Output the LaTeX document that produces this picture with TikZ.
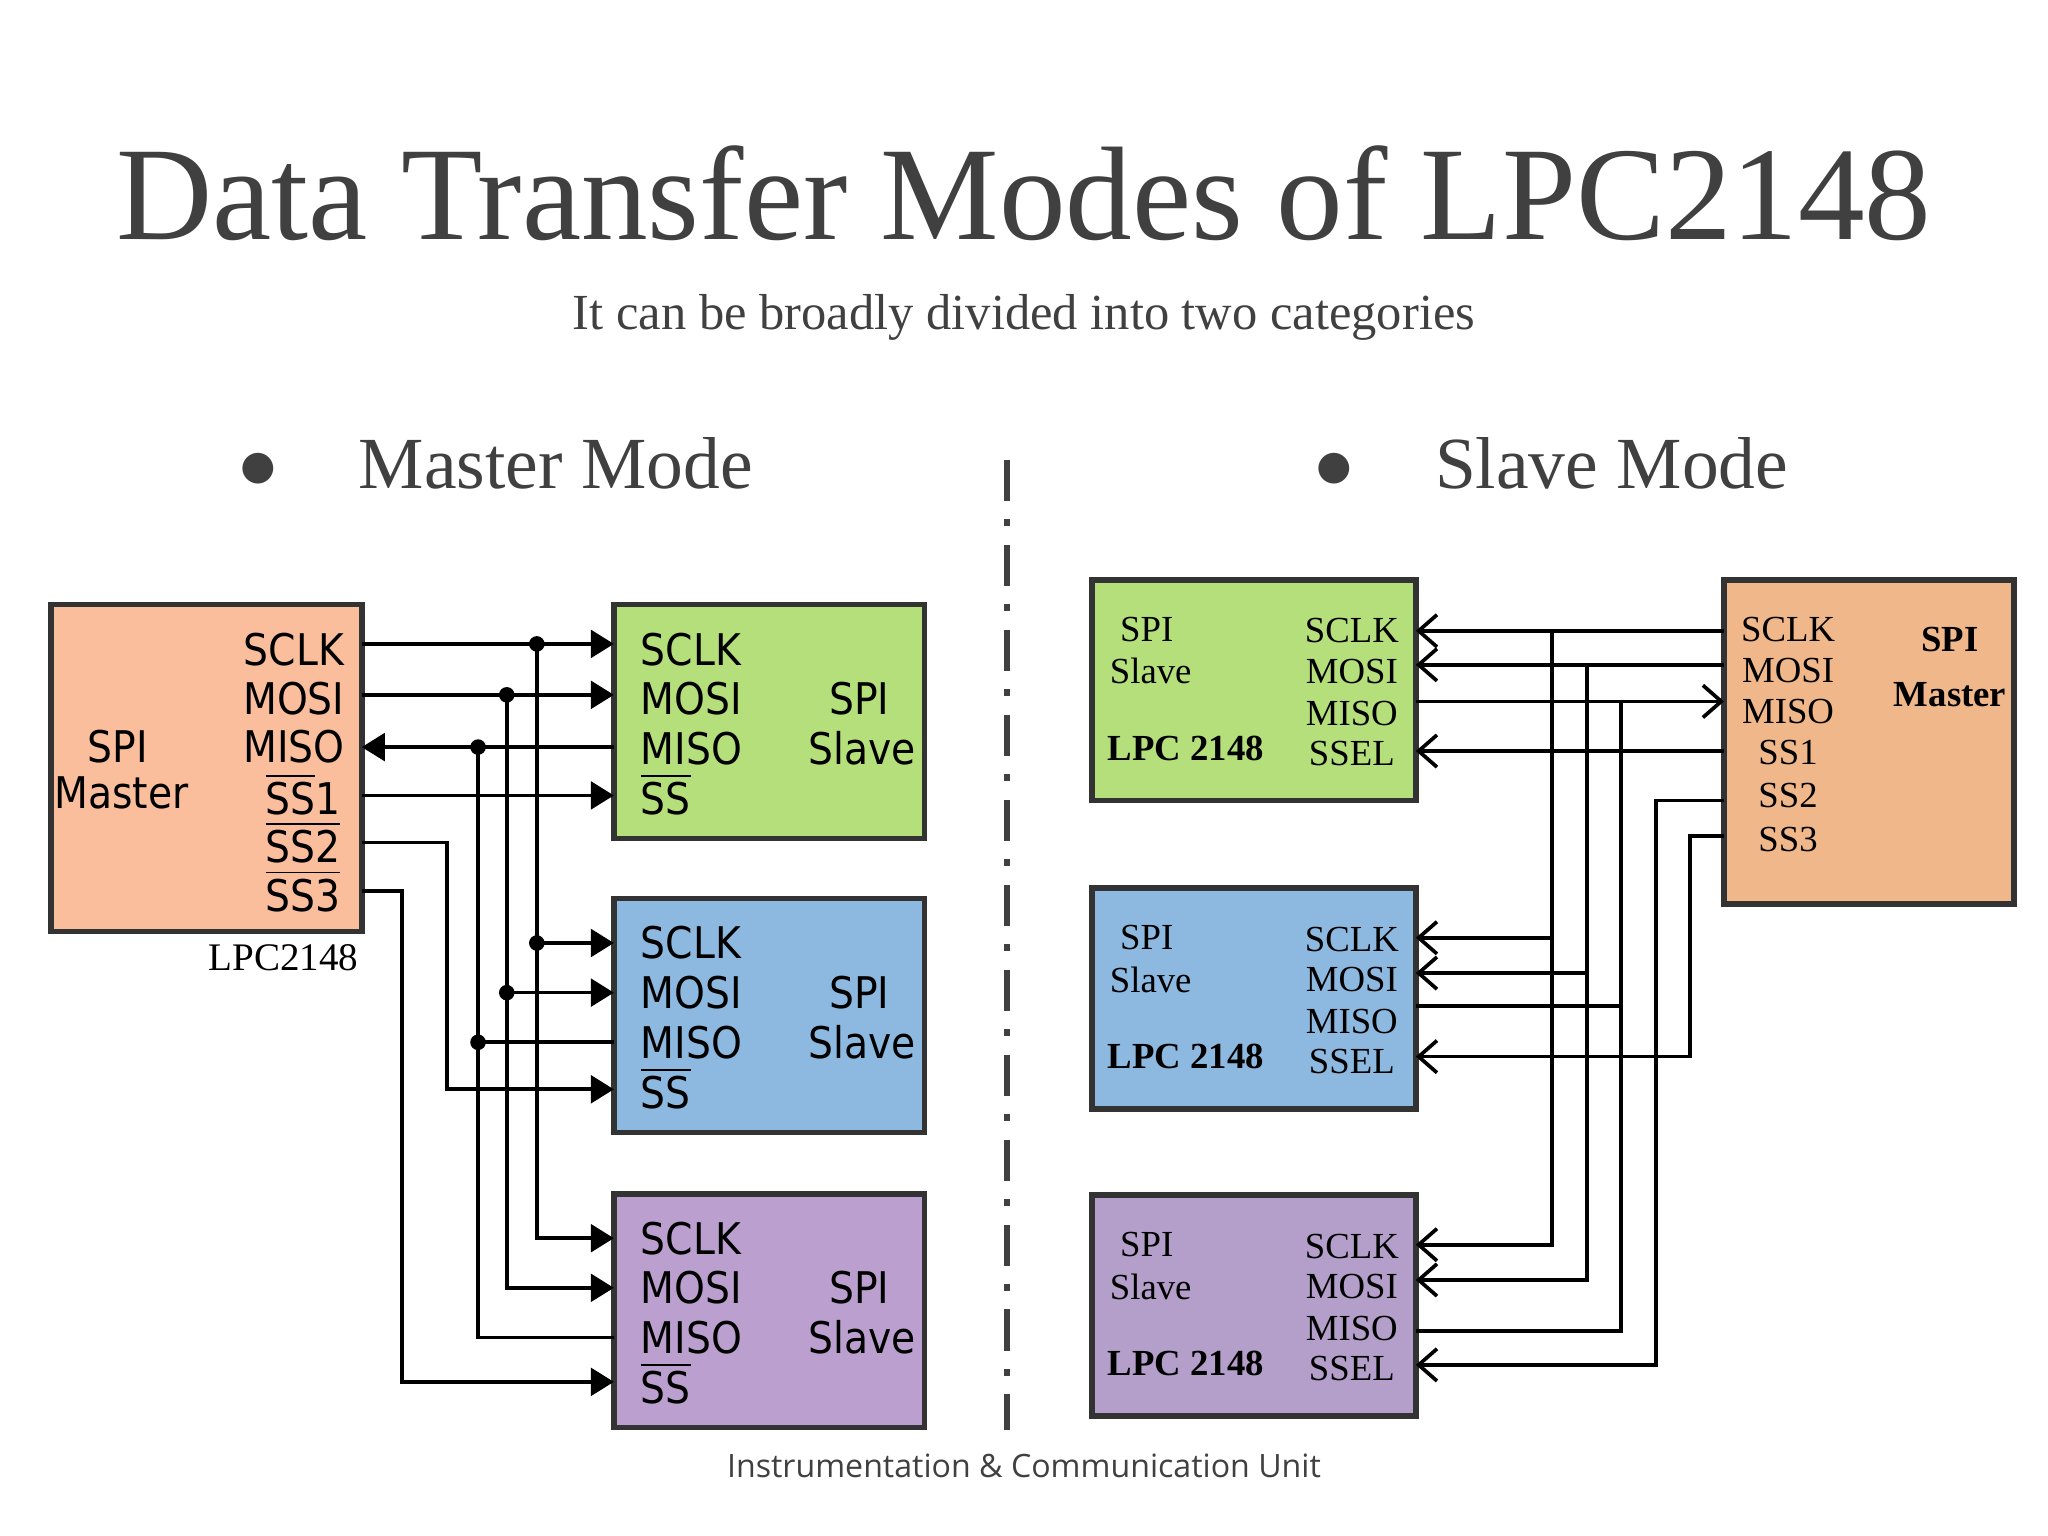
\documentclass[tikz,border=0pt]{standalone}
\usepackage{fontspec}
\setmainfont{Liberation Serif}
\newfontfamily\pinfont{DejaVu Sans Condensed}
\newfontfamily\footfont{Open Sans}
\usetikzlibrary{arrows.meta}
\definecolor{masterL}{HTML}{FBBE9C}
\definecolor{masterR}{HTML}{F0B88A}
\definecolor{slaveG}{HTML}{B5DF7A}
\definecolor{slaveB}{HTML}{8DB9E0}
\definecolor{slaveP}{HTML}{BBA0CF}
\definecolor{slavePR}{HTML}{B39FC9}
\definecolor{inkgray}{HTML}{404040}
\tikzset{
  box/.style={draw=black!80,line width=1.2pt},
  pin/.style={font=\pinfont\fontsize{9.5}{10}\selectfont,inner sep=0pt},
  rpin/.style={font=\fontsize{8}{9}\selectfont,inner sep=0pt},
  wire/.style={line width=0.8pt},
  fwd/.style={wire,-{Triangle[length=5pt,width=6pt]}},
  open/.style={wire,-{Straight Barb[length=4pt,width=7pt]}},
  dot/.style={circle,fill,inner sep=1.2pt}
}
\begin{document}
\begin{tikzpicture}[x=0.01cm,y=-0.01cm]
  \useasboundingbox (0,0) rectangle (1568,1176);

  % headings
  \node[text=inkgray,font=\fontsize{29}{32}\selectfont] (title) at (784,148) {Data Transfer Modes of LPC2148};
  \node[text=inkgray,font=\fontsize{11}{13}\selectfont] (sub) at (784,243) {It can be broadly divided into two categories};
  \node[text=inkgray,font=\fontsize{16}{18}\selectfont,anchor=west] (mm) at (170,355) {$\bullet$\hspace{1.1em}Master Mode};
  \node[text=inkgray,font=\fontsize{16}{18}\selectfont,anchor=west] (sm) at (994,355) {$\bullet$\hspace{1.1em}Slave Mode};
  \node[font=\footfont\fontsize{7}{8}\selectfont,text=inkgray] (foot) at (784,1122) {Instrumentation \& Communication Unit};
  \draw[line width=1.5pt,dash pattern=on 9pt off 4pt on 1.5pt off 4pt,black!75] (771,352) -- (771,1095);

  % ---- master mode ----
  \draw[box,fill=masterL] (39,463) rectangle (277,713);
  \node[pin] (lsp) at (90,572) {SPI};
  \node[pin] (lms) at (93,607) {Master};
  \node[font=\fontsize{8.5}{9}\selectfont] (llpc) at (217,733) {LPC2148};
  \node[pin] (lsclk) at (225,497) {SCLK};
  \node[pin] (lmosi) at (225,535) {MOSI};
  \node[pin] (lmiso) at (225,572) {MISO};
  \node[pin] (lss1) at (232,608) {$\overline{\mbox{SS}}$1};
  \node[pin] (lss2) at (232,645) {$\overline{\mbox{SS2}}$};
  \node[pin] (lss3) at (232,682) {$\overline{\mbox{SS3}}$};
  \foreach \n/\y/\c in {1/463/slaveG,2/688/slaveB,3/914/slaveP}{
    \draw[box,fill=\c] (470,\y) rectangle (708,\y+179);
    \node[pin,anchor=west] (s\n clk) at (490,\y+34) {SCLK};
    \node[pin,anchor=west] (s\n mosi) at (490,\y+72) {MOSI};
    \node[pin,anchor=west] (s\n miso) at (490,\y+110) {MISO};
    \node[pin,anchor=west] (s\n ss) at (490,\y+145) {$\overline{\mbox{SS}}$};
    \node[pin] (s\n spi) at (658,\y+72) {SPI};
    \node[pin] (s\n sl) at (660,\y+110) {Slave};
  }
  \coordinate (mE) at (277,0);
  \coordinate (sW) at (470,0);
  \draw[fwd] (mE |- 0,493) -- (sW |- 0,493);
  \draw[fwd] (mE |- 0,532) -- (sW |- 0,532);
  \draw[fwd] (sW |- 0,572) -- (mE |- 0,572);
  \draw[fwd] (mE |- 0,609) -- (sW |- 0,609);
  \draw[fwd] (mE |- 0,645) -| (342,834) -- (sW |- 0,834);
  \draw[fwd] (mE |- 0,682) -| (308,1058) -- (sW |- 0,1058);
  \draw[fwd] (411,493) |- (sW |- 0,722);
  \draw[fwd] (411,722) |- (sW |- 0,948);
  \draw[fwd] (388,532) |- (sW |- 0,760);
  \draw[fwd] (388,760) |- (sW |- 0,986);
  \draw[wire] (366,572) |- (sW |- 0,798);
  \draw[wire] (366,798) |- (sW |- 0,1024);
  \foreach \p in {(411,493),(388,532),(366,572),(411,722),(388,760),(366,798)}
    \node[dot] at \p {};

  % ---- slave mode ----
  \draw[box,fill=masterR] (1320,444) rectangle (1542,692);
  \node[rpin] (rsclk) at (1369,482) {SCLK};
  \node[rpin] (rmosi) at (1369,513) {MOSI};
  \node[rpin] (rmiso) at (1369,545) {MISO};
  \node[rpin] (rss1) at (1369,576) {SS1};
  \node[rpin] (rss2) at (1369,609) {SS2};
  \node[rpin] (rss3) at (1369,643) {SS3};
  \node[rpin,font=\bfseries\fontsize{8}{10}\selectfont,align=center] (rms) at (1493,511) {SPI\\[2pt]Master};
  \foreach \n/\y/\c in {1/444/slaveG,2/680/slaveB,3/915/slavePR}{
    \draw[box,fill=\c] (836,\y) rectangle (1084,\y+169);
    \node[rpin] (r\n spi) at (878,\y+38) {SPI};
    \node[rpin] (r\n sl) at (881,\y+70) {Slave};
    \node[rpin,font=\bfseries\fontsize{8}{9}\selectfont] (r\n lpc) at (908,\y+129) {LPC 2148};
    \node[rpin] (r\n clk) at (1035,\y+39) {SCLK};
    \node[rpin] (r\n mosi) at (1035,\y+70) {MOSI};
    \node[rpin] (r\n miso) at (1035,\y+102) {MISO};
    \node[rpin] (r\n ssel) at (1035,\y+133) {SSEL};
  }
  \coordinate (rW) at (1320,0);
  \coordinate (rE) at (1084,0);
  \draw[open] (rW |- 0,483) -- (rE |- 0,483);
  \draw[open] (rW |- 0,509) -- (rE |- 0,509);
  \draw[open] (rE |- 0,537) -- (rW |- 0,537);
  \draw[open] (rW |- 0,575) -- (rE |- 0,575);
  \draw[open] (rW |- 0,613) -| (1268,1045) -- (rE |- 0,1045);
  \draw[open] (rW |- 0,640) -| (1294,809) -- (rE |- 0,809);
  \draw[open] (1188,483) -- (1188,953) -- (rE |- 0,953);
  \draw[open] (1188,718) -- (rE |- 0,718);
  \draw[open] (1215,509) -- (1215,980) -- (rE |- 0,980);
  \draw[open] (1215,745) -- (rE |- 0,745);
  \draw[wire] (1241,537) -- (1241,1019) -- (rE |- 0,1019);
  \draw[wire] (1241,770) -- (rE |- 0,770);
\end{tikzpicture}
\end{document}
